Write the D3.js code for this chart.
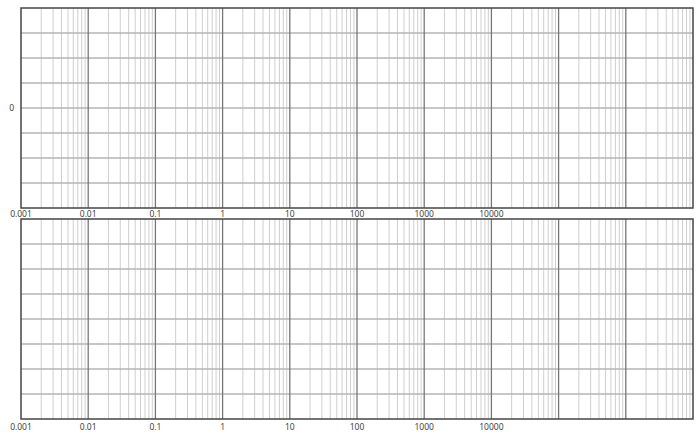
<!DOCTYPE html>
<html>
<head>
<meta charset="utf-8">
<script src="https://cdn.jsdelivr.net/npm/d3@7"></script>
<style>
  body { margin: 0; background: #fff; }
  svg text { font-family: "Open Sans", "Noto Sans", sans-serif; font-size: 8.5px; fill: #333; }
</style>
</head>
<body>
<svg id="chart" width="700" height="445"></svg>
<script>
// decades shown on the log axis
var decades = [0.001, 0.01, 0.1, 1, 10, 100, 1000, 10000, 100000, 1000000, 10000000];
// labels printed under the axis (only the first eight decades are labelled)
var tickLabels = ["0.001", "0.01", "0.1", "1", "10", "100", "1000", "10000"];
// multipliers for the minor lines inside each decade
var minorSteps = [2, 3, 4, 5, 6, 7, 8, 9];
// horizontal grid steps, only the middle one labelled
var yTicks = [-4, -3, -2, -1, 0, 1, 2, 3, 4];
var yLabels = ["", "", "", "", "0", "", "", "", ""];
// two identical panels
var panels = [
  { name: "top", showY: true },
  { name: "bottom", showY: false }
];

var svg = d3.select('#chart');

var x = d3.scaleLog()
  .domain([decades[0], decades[decades.length - 1]])
  .range([21, 693]);

var minor = decades.slice(0, -1).map(function(d) {
  return minorSteps.map(function(k) { return d * k; });
}).reduce(function(a, b) { return a.concat(b); }, []);

var bands = [[8, 208], [219, 419]];

panels.forEach(function(p, i) {
  var y = d3.scaleLinear()
    .domain([yTicks[0], yTicks[yTicks.length - 1]])
    .range([bands[i][1], bands[i][0]]);

  var g = svg.append('g').attr('class', 'panel ' + p.name);

  // minor verticals
  g.selectAll('.minor')
    .data(minor)
    .enter()
      .append('line')
      .attr('x1', function(d) { return x(d); })
      .attr('x2', function(d) { return x(d); })
      .attr('y1', y.range()[0])
      .attr('y2', y.range()[1])
      .attr('stroke', '#cfcfcf')
      .attr('stroke-width', 1);

  // horizontal grid
  g.selectAll('.hline')
    .data(yTicks.slice(1, -1))
    .enter()
      .append('line')
      .attr('x1', x.range()[0])
      .attr('x2', x.range()[1])
      .attr('y1', function(d) { return y(d); })
      .attr('y2', function(d) { return y(d); })
      .attr('stroke', '#b4b4b4')
      .attr('stroke-width', 1.3);

  // decade lines
  g.selectAll('.major')
    .data(decades.slice(1, -1))
    .enter()
      .append('line')
      .attr('x1', function(d) { return x(d); })
      .attr('x2', function(d) { return x(d); })
      .attr('y1', y.range()[0])
      .attr('y2', y.range()[1])
      .attr('stroke', '#777')
      .attr('stroke-width', 1.3);

  // frame
  g.append('rect')
    .attr('x', x.range()[0])
    .attr('y', y.range()[1])
    .attr('width', x.range()[1] - x.range()[0])
    .attr('height', y.range()[0] - y.range()[1])
    .attr('fill', 'none')
    .attr('stroke', '#444')
    .attr('stroke-width', 1.5);

  // x labels
  g.selectAll('.xlab')
    .data(tickLabels)
    .enter()
      .append('text')
      .attr('x', function(d, k) { return x(decades[k]); })
      .attr('y', y.range()[0] + (i === 0 ? 9 : 11))
      .attr('text-anchor', 'middle')
      .text(function(d) { return d; });

  if (p.showY) {
    g.selectAll('.ylab')
      .data(yTicks)
      .enter()
        .append('text')
        .attr('x', 14)
        .attr('y', function(d) { return y(d) + 3; })
        .attr('text-anchor', 'end')
        .text(function(d, k) { return yLabels[k]; });
  }
});
</script>
</body>
</html>
